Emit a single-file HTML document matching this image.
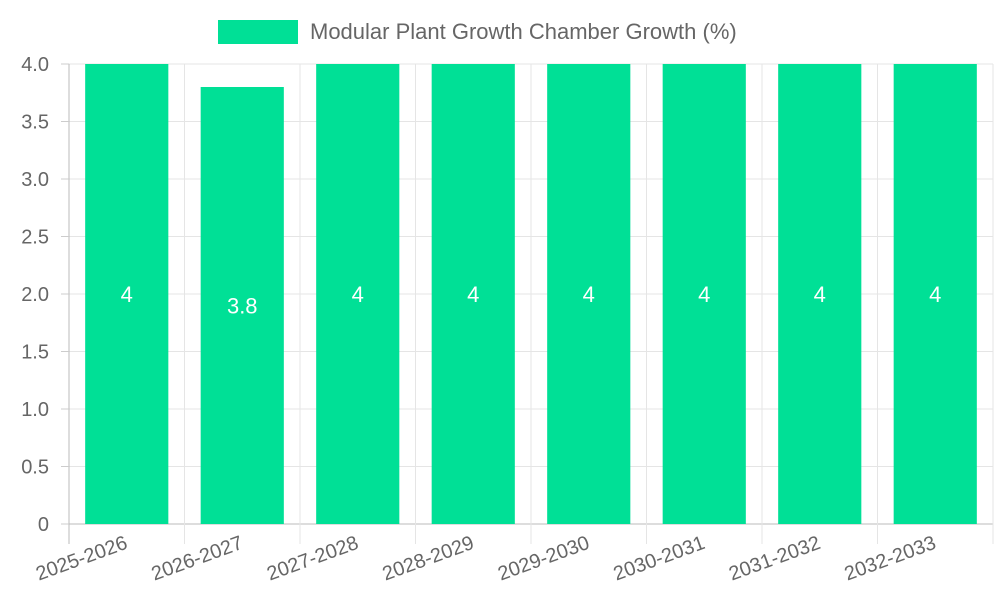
<!DOCTYPE html>
<html><head><meta charset="utf-8"><style>
html,body{margin:0;padding:0;background:#fff;}
svg{display:block;font-family:"Liberation Sans",sans-serif;}
</style></head><body>
<svg id="chart" width="1000" height="600">
  <g>
    <rect x="218" y="20" width="80" height="24" fill="#00e096"></rect>
    <text x="310" y="39" font-size="22" fill="#666">Modular Plant Growth Chamber Growth (%)</text>
  </g>
  <g id="grid"></g>
  <g id="bars"></g>
  <g id="axes"></g>
</svg>
<script>
const categories = ["2025-2026","2026-2027","2027-2028","2028-2029","2029-2030","2030-2031","2031-2032","2032-2033"];
const values = [4,3.8,4,4,4,4,4,4];
const yTicks = [0,0.5,1,1.5,2,2.5,3,3.5,4];
const yTickLabels = ["0","0.5","1.0","1.5","2.0","2.5","3.0","3.5","4.0"];

const NS="http://www.w3.org/2000/svg";
const X0=69,X1=993,Y0=524,Y1=64,YMAX=4;
const band=(X1-X0)/categories.length;
const xPos=i=>X0+band*i;
const yPos=v=>Y0-(v/YMAX)*(Y0-Y1);
function mk(tag,attrs,parent){const e=document.createElementNS(NS,tag);for(const k in attrs)e.setAttribute(k,attrs[k]);parent.appendChild(e);return e;}
const grid=document.getElementById('grid'),bars=document.getElementById('bars'),axes=document.getElementById('axes');

yTicks.forEach((t,i)=>{
  const y=yPos(t);
  const gl=mk('line',{x1:X0,x2:X1,y1:y,y2:y,stroke:i===0?'#bbb':'#e5e5e5','stroke-width':1},grid);
  
  
  const tk=mk('line',{x1:X0-8,x2:X0,y1:y,y2:y,stroke:'#ccc'},axes);
  
  
  const tx=mk('text',{x:X0-20,y:y+7,'text-anchor':'end','font-size':20,fill:'#666'},axes);
  tx.textContent=yTickLabels[i];
  
  
});
for(let i=0;i<=categories.length;i++){
  const x=xPos(i);
  const vl=mk('line',{x1:x,x2:x,y1:Y1,y2:Y0+20,stroke:i===0?'#bbb':'#e5e5e5'},grid);
  
  
}
categories.forEach((c,i)=>{
  const cx=xPos(i)+band/2, bw=band*0.72, y=yPos(values[i]);
  const r=mk('rect',{x:cx-bw/2,y:y,width:bw,height:Y0-y,fill:'#00e096'},bars);
  
  
  const vt=mk('text',{x:cx,y:(y+Y0)/2+8,'text-anchor':'middle','font-size':22,fill:'#fff'},bars);
  vt.textContent=String(values[i]);
  
  
  const lx=cx+2, ly=548;
  const lt=mk('text',{x:lx,y:ly,'text-anchor':'end','font-size':20,fill:'#666',transform:`rotate(-20 ${lx} ${ly})`},axes);
  lt.textContent=c;
  
  
});
</script>
</body></html>
